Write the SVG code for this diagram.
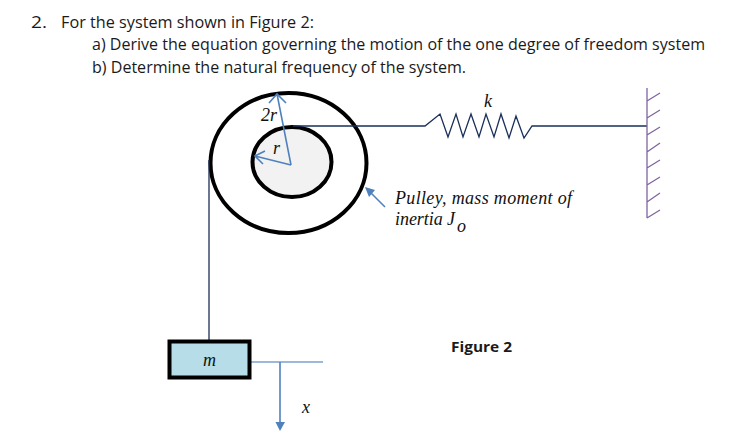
<svg xmlns="http://www.w3.org/2000/svg" width="748" height="446" viewBox="0 0 748 446">
<style>
.t{font-family:"Open Sans","Noto Sans",sans-serif;font-size:15.5px;fill:#1a1a1a}
.b{font-family:"Open Sans","Noto Sans",sans-serif;font-size:15px;font-weight:700;fill:#1a1a1a}
.i{font-family:"Liberation Serif",serif;font-style:italic;font-size:18px;fill:#111}
.d{fill:none;stroke:#1a2f5a;stroke-width:1.3}
.a{fill:none;stroke:#4f81bd;stroke-width:1.6}
.w{fill:none;stroke:#8064a2;stroke-width:1.3}
</style>
<rect width="748" height="446" fill="#fff"/>
<g id="question">
<text class="t" x="31" y="28" textLength="16" lengthAdjust="spacingAndGlyphs">2.</text>
<text class="t" x="61" y="28" textLength="253" lengthAdjust="spacingAndGlyphs">For the system shown in Figure 2:</text>
<text class="t" x="92" y="50" textLength="613" lengthAdjust="spacingAndGlyphs">a) Derive the equation governing the motion of the one degree of freedom system</text>
<text class="t" x="92" y="73" textLength="374" lengthAdjust="spacingAndGlyphs">b) Determine the natural frequency of the system.</text>
</g>
<g id="pulley">
<ellipse cx="288.500" cy="163" rx="78" ry="70" fill="#fff" stroke="#000" stroke-width="4"/>
<ellipse cx="292" cy="162" rx="39.500" ry="35" fill="#f2f2f2" stroke="#000" stroke-width="4"/>
<text class="i" x="261" y="121">2r</text>
<text class="i" x="273" y="154" font-size="16">r</text>
</g>
<g id="connectors">
<path class="d" d="M209 160V340"/>
<path class="d" d="M293 126H425L440 114L448 137L456 114L463 137L471 114L479 137L486 114L494 137L501 114L509 138L516 116L524 138L532 126H647"/>
<path class="a" d="M291 165L277 94M269 103L277 94L286 103"/>
<path class="a" d="M291 165L255 156M265 151L255 156L263 164"/>
<path d="M251 362H323" fill="none" stroke="#7ba0cf" stroke-width="1.6"/>
<path class="a" d="M280 362V424"/>
<path d="M275.500 422H285L280 431Z" fill="#4f81bd"/>
<path class="a" d="M385 207L368 190"/>
<path d="M365 187L375 190L369 197Z" fill="#4f81bd"/>
</g>
<g id="wall">
<path class="w" d="M647 88V218M647 101L660 93M647 118L660 110M647 135L660 127M647 152L660 143M647 168L660 160M647 185L660 177M647 202L660 193M647 218L660 210"/>
</g>
<g id="spring-label"><text class="i" x="484" y="107">k</text></g>
<g id="pulley-label">
<text class="i" x="395" y="204" textLength="177" lengthAdjust="spacing">Pulley, mass moment of</text>
<text class="i" x="395" y="225" textLength="60" lengthAdjust="spacing">inertia J</text>
<text class="i" x="457" y="232" font-size="12">o</text>
</g>
<g id="mass">
<rect x="169.500" y="341.500" width="80" height="36" fill="#b7dde8" stroke="#000" stroke-width="4"/>
<text class="i" x="203" y="366" font-size="18">m</text>
</g>
<g id="x-label"><text class="i" x="302" y="413" font-size="15">x</text></g>
<g id="figure-label"><text class="b" x="451" y="352" textLength="61" lengthAdjust="spacingAndGlyphs">Figure 2</text></g>
</svg>
